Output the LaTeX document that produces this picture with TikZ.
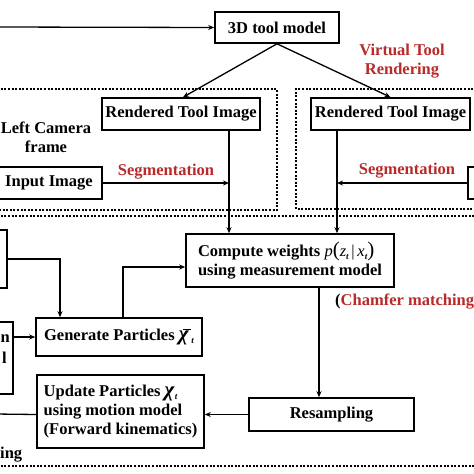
\documentclass[tikz,border=0pt]{standalone}
\usepackage{fontspec}
\setmainfont{Liberation Serif}
\usetikzlibrary{arrows.meta,calc}
\definecolor{lblred}{RGB}{185,42,42}
\newcommand{\subt}{\raisebox{-0.35ex}{\fontsize{9}{9}\selectfont\itshape t}}
\newcommand{\chiglyph}{{\fontsize{21}{21}\selectfont\itshape χ}}
\newcommand{\barchi}{\vbox{\offinterlineskip\hbox{\kern4pt\vrule width 8pt height 0.9pt depth 0pt}\kern1.5pt\hbox{\chiglyph}}}
\begin{document}
\begin{tikzpicture}[x=1pt,y=-1pt,
  font=\fontsize{16.5}{19}\selectfont\bfseries,
  box/.style={draw,line width=1.6pt,inner sep=0pt,minimum width=#1},
  arr/.style={line width=1.3pt,-{Stealth[length=6pt,width=5pt]}},
  ln/.style={line width=1.3pt},
  dsh/.style={line width=1.3pt,dash pattern=on 2pt off 1.6pt},
  redlbl/.style={text=lblred,align=center}]
\useasboundingbox (0,0) rectangle (474,474);
\clip (0,0) rectangle (474,474);
\fill[white] (0,0) rectangle (474,474);
% dashed frames
\draw[dsh] (-10,89) -- (277,89) -- (277,210) -- (-10,210);
\draw[dsh] (484,89) -- (296,89) -- (296,209) -- (484,209);
\draw[dsh] (-10,216) -- (484,216);
\draw[dsh] (-10,466) -- (484,466);
% boxes
\node[box=124pt,minimum height=31pt] (tool) at (277,27.5) {3D tool model};
\node[box=158pt,minimum height=32pt] (rl) at (181,114) {Rendered Tool Image};
\node[box=159pt,minimum height=32pt] (rr) at (390.5,114) {Rendered Tool Image};
\node[box=106pt,minimum height=32pt] (inl) at (49,183) {Input Image};
\node[box=106pt,minimum height=32pt] (inr) at (521,183) {};
\node[box=208pt,minimum height=53pt,align=left] (comp) at (290,260.5)
  {Compute weights \textit{\mdseries p}{\mdseries\fontsize{21}{21}\selectfont(}\textit{\mdseries z}\subt\,{\mdseries|}\,\textit{\mdseries x}\subt{\mdseries\fontsize{21}{21}\selectfont)}\\using measurement model};
\node[box=166pt,minimum height=38pt] (gen) at (119,337)
  {Generate Particles \hbox{\barchi\kern0.5pt\subt}};
\node[box=167pt,minimum height=73pt,align=left] (upd) at (120.5,411.5)
  {Update Particles \hbox{\chiglyph\kern0.5pt\subt}\\using motion model\\(Forward kinematics)};
\node[box=165pt,minimum height=33pt] (res) at (331.5,414.5) {Resampling};
\node[box=114pt,minimum height=58pt] (boxA) at (-50,259) {};
\node[box=126pt,minimum height=72pt] (boxB) at (-50,358) {};
% fragments of cut-off text
\node[anchor=east,inner sep=0pt] (fn) at (10,339) {n};
\node[anchor=east,inner sep=0pt] (fl) at (7,358) {l};
\node[anchor=base west,inner sep=0pt] (fing) at (0,458) {ing};
% labels
\node[align=center] (lcf) at (46,137) {Left Camera\\frame};
\node[redlbl] (vtr) at (402,61) {Virtual Tool\\Rendering};
\node[redlbl] (segl) at (166,172) {Segmentation};
\node[redlbl] (segr) at (407,171) {Segmentation};
\node[anchor=west,inner sep=0pt] (cham) at (335,302) {(\textcolor{lblred}{Chamfer matching}};
% coordinates
\coordinate (start) at (-5,27);
\coordinate (vl) at (229,0);
\coordinate (vr) at (337,0);
\coordinate (vg) at (60,0);
\coordinate (gc) at (123,267);
\coordinate (vx) at (319,0);
\coordinate (lend) at (-5,414);
% connectors
\draw[arr] (start) -- (tool.west);
\draw[arr] (tool.south) -- ($(rl.north)+(2,0)$);
\draw[arr] (tool.south) -- (rr.north);
\draw[arr] (rl.south -| vl) -- (comp.north -| vl);
\draw[arr] (inl.east) -- (inl.east -| vl);
\draw[arr] (rr.south -| vr) -- (comp.north -| vr);
\draw[arr] (inr.west) -- (inr.west -| vr);
\draw[arr] (boxA.east) -| (gen.north -| vg);
\draw[arr] (boxB.east |- gen.west) -- (gen.west);
\draw[arr] (gen.north -| gc) |- (comp.west |- gc);
\draw[arr] (comp.south -| vx) -- (res.north -| vx);
\draw[arr] (res.west) -- (upd.east |- res.west);
\draw[ln] (upd.west |- res.west) -- (lend);
\end{tikzpicture}
\end{document}
